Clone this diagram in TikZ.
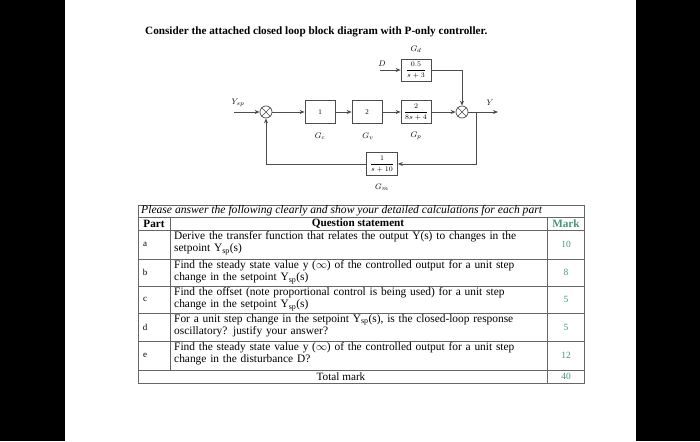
\documentclass[tikz,border=0pt]{standalone}
\usepackage{fontspec}
\setmainfont{Liberation Serif}
\usetikzlibrary{arrows.meta}
\definecolor{markc}{RGB}{70,150,120}
\begin{document}
\begin{tikzpicture}[x=1pt,y=-1pt,
  blk/.style={draw=black!70,line width=0.7pt,minimum width=30pt,minimum height=23pt,inner sep=0pt,font=\fontsize{7}{8}\selectfont},
  sumj/.style={draw=black!70,line width=0.7pt,circle,minimum size=12pt,inner sep=0pt},
  sig/.style={draw=black!70,line width=0.8pt,-{Stealth[length=5pt,width=4pt]}},
  lab/.style={font=\fontsize{8}{9}\selectfont\itshape},
  cell/.style={font=\fontsize{11.4}{12.6}\selectfont,anchor=north west,align=left,text width=370pt,inner sep=0pt},
  tl/.style={draw=black!60,line width=0.7pt}]
\useasboundingbox (0,0) rectangle (700,441);
\fill[black] (0,0) rectangle (65,441);
\fill[black] (636,0) rectangle (700,441);
\node[anchor=west,font=\fontsize{11.2}{12}\selectfont\bfseries,inner sep=0pt] (title) at (145,32) {Consider the attached closed loop block diagram with P-only controller.};
% block diagram
\node[sumj] (s1) at (266,112) {};
\draw[black!70] (s1.north west)--(s1.south east) (s1.north east)--(s1.south west);
\node[blk] (gc) at (320,112) {1};
\node[blk] (gv) at (367,112) {2};
\node[blk] (gp) at (416,112) {$\displaystyle\frac{2}{8s+4}$};
\node[sumj] (s2) at (462,112) {};
\draw[black!70] (s2.north west)--(s2.south east) (s2.north east)--(s2.south west);
\node[blk,minimum height=22pt] (gd) at (416,70) {$\displaystyle\frac{0.5}{s+3}$};
\node[blk,minimum width=31pt] (gm) at (382,164) {$\displaystyle\frac{1}{s+10}$};
\node[lab] (ysp) at (238,103) {$Y_{sp}$};
\coordinate (yin) at (234,112);
\node[lab] (y) at (490,103) {$Y$};
\coordinate (yout) at (498,112);
\node[lab] (d) at (382,64) {$D$};
\coordinate (din) at (380,70);
\node[lab] (lgd) at (416,49) {$G_d$};
\node[lab] (lgc) at (320,136) {$G_c$};
\node[lab] (lgv) at (368,136) {$G_v$};
\node[lab] (lgp) at (416,136) {$G_p$};
\node[lab] (lgm) at (382,187) {$G_m$};
\coordinate (tap) at (476,112);
\draw[sig] (yin)--(s1);
\draw[sig] (s1)--(gc);
\draw[sig] (gc)--(gv);
\draw[sig] (gv)--(gp);
\draw[sig] (gp)--(s2);
\draw[sig] (s2)--(yout);
\draw[sig] (din)--(gd);
\draw[sig] (gd.east)-|(s2.north);
\draw[sig] (tap)|-(gm.east);
\draw[sig] (gm.west)-|(s1.south);
% table
\draw[tl] (138,205) rectangle (584,383);
\foreach \yy in {217,230,259,286,313,341,370} \draw[tl] (138,\yy)--(584,\yy);
\draw[tl] (170,217)--(170,370);
\draw[tl] (547,217)--(547,383);
\node[anchor=west,font=\fontsize{11.6}{12}\selectfont\itshape,inner sep=0pt] (hdr) at (141,211) {Please answer the following clearly and show your detailed calculations for each part};
\node[font=\fontsize{11.2}{12}\selectfont\bfseries,inner sep=0pt] (hp) at (154,223.5) {Part};
\node[font=\fontsize{11.2}{12}\selectfont\bfseries,inner sep=0pt] (hq) at (358,223.5) {Question statement};
\node[font=\fontsize{11.2}{12}\selectfont\bfseries,text=markc,inner sep=0pt] (hm) at (566,223.5) {Mark};
\foreach \p/\yy/\m in {a/244/10,b/272/8,c/299/5,d/327/5,e/355/12}{
  \node[font=\fontsize{9}{10}\selectfont,inner sep=0pt] at (145,\yy) {\p};
  \node[font=\fontsize{9.5}{10}\selectfont,text=markc,inner sep=0pt] at (566,\yy) {\m};
}
\node[cell] (qa) at (174,231) {Derive the transfer function that relates the output Y(s) to changes in the\\setpoint Y\textsubscript{sp}(s)};
\node[cell] (qb) at (174,260) {Find the steady state value y ($\infty$) of the controlled output for a unit step\\change in the setpoint Y\textsubscript{sp}(s)};
\node[cell] (qc) at (174,287) {Find the offset (note proportional control is being used) for a unit step\\change in the setpoint Y\textsubscript{sp}(s)};
\node[cell] (qd) at (174,314) {For a unit step change in the setpoint Y\textsubscript{sp}(s), is the closed-loop response\\oscillatory? justify your answer?};
\node[cell] (qe) at (174,342) {Find the steady state value y ($\infty$) of the controlled output for a unit step\\change in the disturbance D?};
\node[font=\fontsize{11.2}{12}\selectfont,inner sep=0pt] (tot) at (341,376.5) {Total mark};
\node[font=\fontsize{9.5}{10}\selectfont,text=markc,inner sep=0pt] (tm) at (566,376.5) {40};
\end{tikzpicture}
\end{document}
